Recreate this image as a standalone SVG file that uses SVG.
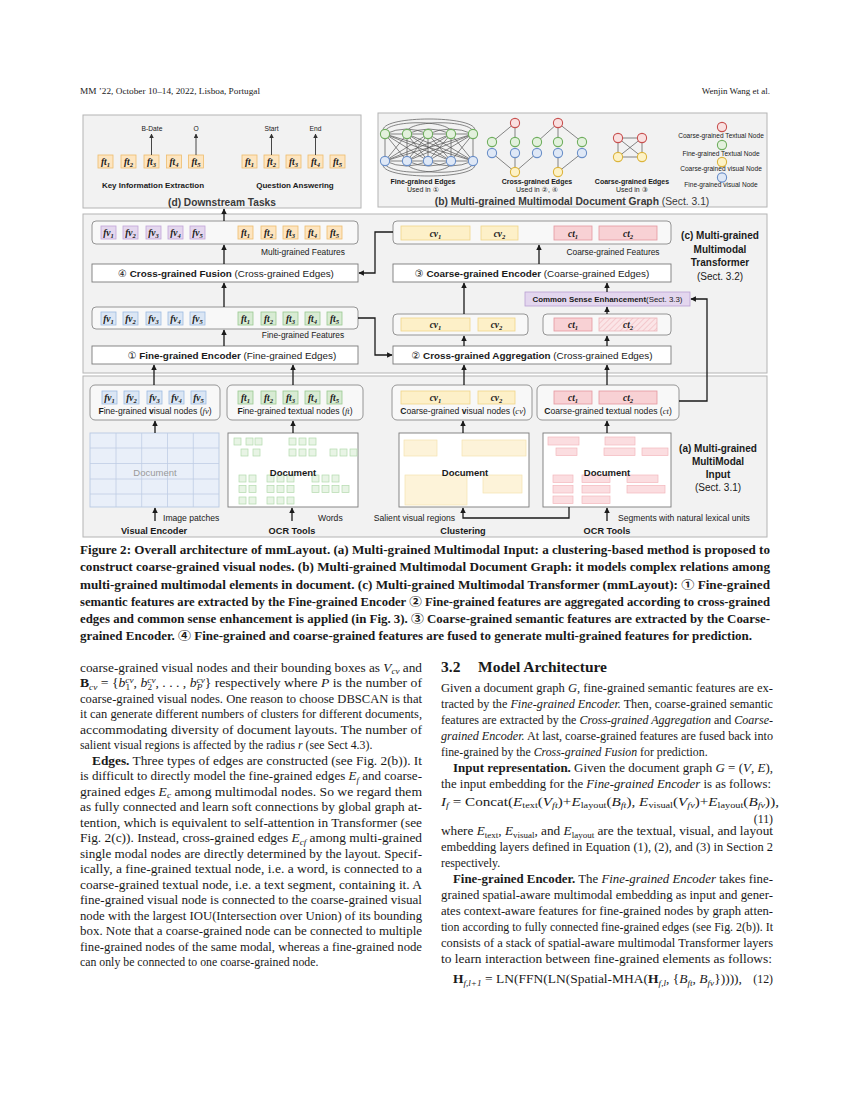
<svg xmlns="http://www.w3.org/2000/svg" width="850" height="1100" viewBox="0 0 850 1100">
<defs>
<style>
.pan{fill:#f2f2f2;stroke:#b4b4b4;stroke-width:1}
.rb{fill:#f8f8f8;stroke:#8a8a8a;stroke-width:0.9}
.wb{fill:#ffffff;stroke:#7a7a7a;stroke-width:0.9}
.o{fill:#fde5c0;stroke:#eebc6c;stroke-width:0.8}
.p{fill:#e4d7ee;stroke:#c0a4d8;stroke-width:0.8}
.bl{fill:#dbe6f4;stroke:#9dbbe2;stroke-width:0.8}
.g{fill:#d8ebd3;stroke:#99c991;stroke-width:0.8}
.y{fill:#fdf0c8;stroke:#efd488;stroke-width:0.8}
.k{fill:#f8d1d4;stroke:#e3979e;stroke-width:0.8}
.s{font-family:"Liberation Sans","DejaVu Sans","Noto Sans CJK SC",sans-serif;fill:#1a1a1a}
.m{font-family:"Liberation Serif","DejaVu Serif",serif;font-style:italic;font-weight:bold;font-size:9.5px;fill:#1a1a1a;text-anchor:middle}
.mi{font-family:"Liberation Serif","DejaVu Serif",serif;font-style:italic}
.sb{font-size:6.6px}
.cn{stroke:#1a1a1a;stroke-width:1.3;fill:none}
.cn2{stroke:#333;stroke-width:0.9;fill:none}
.e{stroke:#555;stroke-width:0.7;fill:none}
.nr{fill:#f9e0e0;stroke:#c8504f;stroke-width:1.1}
.ng{fill:#e3f1dd;stroke:#6fae5e;stroke-width:1.1}
.nb{fill:#dfe8f6;stroke:#6a8fc8;stroke-width:1.1}
.ny{fill:#fdf2c6;stroke:#dcb43c;stroke-width:1.1}
.t{font-family:"Liberation Serif","DejaVu Serif",serif;font-size:11.8px;fill:#1a1a1a}
.cap{font-family:"Liberation Serif","DejaVu Serif","Noto Sans CJK SC",serif;font-size:11.8px;font-weight:bold;fill:#1a1a1a}
.it{font-style:italic}
.bd{font-weight:bold}
.sub{font-size:8px}
</style>
<marker id="ah" viewBox="0 0 10 10" refX="9" refY="5" markerWidth="4.2" markerHeight="4.2" orient="auto"><path d="M0,0 L10,5 L0,10 z" fill="#1a1a1a"/></marker>
<marker id="ah2" viewBox="0 0 10 10" refX="9" refY="5" markerWidth="5" markerHeight="5" orient="auto"><path d="M0,0 L10,5 L0,10 z" fill="#333"/></marker>
<pattern id="hatch" width="4" height="4" patternUnits="userSpaceOnUse" patternTransform="rotate(45)"><rect width="4" height="4" fill="#fbe5e7"/><line x1="0" y1="0" x2="0" y2="4" stroke="#f0b7bc" stroke-width="1.2"/></pattern>
</defs>
<rect width="850" height="1100" fill="#ffffff"/>

<!-- header -->
<text x="80" y="94" class="t" style="font-size:9px" textLength="180" lengthAdjust="spacingAndGlyphs">MM ’22, October 10–14, 2022, Lisboa, Portugal</text>
<text x="770" y="94" class="t" style="font-size:9px" text-anchor="end">Wenjin Wang et al.</text>

<!-- panels -->
<g id="panel-d">
<rect class="pan" x="83" y="115" width="278" height="93"/>
<rect class="o" x="98" y="155" width="15" height="13"/><text class="m" x="105.5" y="165">ft<tspan class="sb" dy="2">1</tspan></text>
<rect class="o" x="121" y="155" width="15" height="13"/><text class="m" x="128.5" y="165">ft<tspan class="sb" dy="2">2</tspan></text>
<rect class="o" x="144" y="155" width="15" height="13"/><text class="m" x="151.5" y="165">ft<tspan class="sb" dy="2">3</tspan></text>
<rect class="o" x="166.5" y="155" width="15" height="13"/><text class="m" x="174" y="165">ft<tspan class="sb" dy="2">4</tspan></text>
<rect class="o" x="188.5" y="155" width="15" height="13"/><text class="m" x="196" y="165">ft<tspan class="sb" dy="2">5</tspan></text>
<rect class="o" x="242" y="155" width="15" height="13"/><text class="m" x="249.5" y="165">ft<tspan class="sb" dy="2">1</tspan></text>
<rect class="o" x="264" y="155" width="15" height="13"/><text class="m" x="271.5" y="165">ft<tspan class="sb" dy="2">2</tspan></text>
<rect class="o" x="286" y="155" width="15" height="13"/><text class="m" x="293.5" y="165">ft<tspan class="sb" dy="2">3</tspan></text>
<rect class="o" x="308" y="155" width="15" height="13"/><text class="m" x="315.5" y="165">ft<tspan class="sb" dy="2">4</tspan></text>
<rect class="o" x="330" y="155" width="15" height="13"/><text class="m" x="337.5" y="165">ft<tspan class="sb" dy="2">5</tspan></text>
<text class="s" x="152" y="130.5" font-size="6.7" text-anchor="middle">B-Date</text>
<text class="s" x="196" y="130.5" font-size="6.7" text-anchor="middle">O</text>
<text class="s" x="271.5" y="130.5" font-size="6.7" text-anchor="middle">Start</text>
<text class="s" x="315.5" y="130.5" font-size="6.7" text-anchor="middle">End</text>
<text class="s" x="153" y="187.5" font-size="8" font-weight="bold" text-anchor="middle">Key Information Extraction</text>
<text class="s" x="295" y="187.5" font-size="8" font-weight="bold" text-anchor="middle">Question Answering</text>
<text class="s" x="222" y="206" font-size="10.2" font-weight="bold" text-anchor="middle" style="fill:#3a3a3a">(d) Downstream Tasks</text>
</g>

<g id="panel-b">
<rect class="pan" x="378" y="113" width="389" height="94"/>
<g id="fine-edges">
<path class="e" d="M385,134 L407,134 L428,134 L451,134 L473,134 M385,161 L407,161 L428,161 L451,161 L473,161"/>
<path class="e" d="M385,134 L385,161 M385,134 L407,161 M385,134 L428,161 M385,134 L451,161 M385,134 L473,161 M407,134 L385,161 M407,134 L407,161 M407,134 L428,161 M407,134 L451,161 M407,134 L473,161 M428,134 L385,161 M428,134 L407,161 M428,134 L428,161 M428,134 L451,161 M428,134 L473,161 M451,134 L385,161 M451,134 L407,161 M451,134 L428,161 M451,134 L451,161 M451,134 L473,161 M473,134 L385,161 M473,134 L407,161 M473,134 L428,161 M473,134 L451,161 M473,134 L473,161"/>
<path class="e" d="M385,134 Q406.5,124 428,134 M407,134 Q429,124 451,134 M428,134 Q450.5,124 473,134 M385,134 C380,119 456,119 451,134 M407,134 C402,119 478,119 473,134 M385,134 C366,114 492,114 473,134"/>
<path class="e" d="M385,161 Q406.5,171 428,161 M407,161 Q429,171 451,161 M428,161 Q450.5,171 473,161 M385,161 C380,176 456,176 451,161 M407,161 C402,176 478,176 473,161 M385,161 C366,181 492,181 473,161"/>
<circle class="ng" cx="385" cy="134" r="4.6"/><circle class="ng" cx="407" cy="134" r="4.6"/><circle class="ng" cx="428" cy="134" r="4.6"/><circle class="ng" cx="451" cy="134" r="4.6"/><circle class="ng" cx="473" cy="134" r="4.6"/>
<circle class="nb" cx="385" cy="161" r="4.6"/><circle class="nb" cx="407" cy="161" r="4.6"/><circle class="nb" cx="428" cy="161" r="4.6"/><circle class="nb" cx="451" cy="161" r="4.6"/><circle class="nb" cx="473" cy="161" r="4.6"/>
</g>
<g id="cross-edges">
<path class="e" d="M515,123 L492,142 M515,123 L515,142 M558,123 L537,142 M558,123 L558,142 M558,123 L582,142 M515,172 L492,153 M515,172 L515,153 M515,172 L537,153 M558,172 L558,153 M558,172 L582,153"/>
<circle class="nr" cx="515" cy="123" r="4.6"/><circle class="nr" cx="558" cy="123" r="4.6"/>
<circle class="ng" cx="492" cy="142" r="4.6"/><circle class="ng" cx="515" cy="142" r="4.6"/><circle class="ng" cx="537" cy="142" r="4.6"/><circle class="ng" cx="558" cy="142" r="4.6"/><circle class="ng" cx="582" cy="142" r="4.6"/>
<circle class="nb" cx="492" cy="153" r="4.6"/><circle class="nb" cx="515" cy="153" r="4.6"/><circle class="nb" cx="537" cy="153" r="4.6"/><circle class="nb" cx="558" cy="153" r="4.6"/><circle class="nb" cx="582" cy="153" r="4.6"/>
<circle class="ny" cx="515" cy="172" r="4.6"/><circle class="ny" cx="558" cy="172" r="4.6"/>
</g>
<g id="coarse-edges">
<path class="e" d="M618,138 L642,138 L642,157 L618,157 Z M618,138 L642,157 M642,138 L618,157"/>
<circle class="nr" cx="618" cy="138" r="4.6"/><circle class="nr" cx="642" cy="138" r="4.6"/>
<circle class="ny" cx="618" cy="157" r="4.6"/><circle class="ny" cx="642" cy="157" r="4.6"/>
</g>
<g id="legend">
<circle class="nr" cx="722" cy="127" r="4.6"/>
<circle class="ng" cx="722" cy="145" r="4.6"/>
<circle class="ny" cx="722" cy="162" r="4.6"/>
<circle class="nb" cx="722" cy="177.5" r="4.6"/>
<text class="s" x="721" y="138" font-size="6.6" text-anchor="middle">Coarse-grained Textual Node</text>
<text class="s" x="721" y="155.5" font-size="6.6" text-anchor="middle">Fine-grained Textual Node</text>
<text class="s" x="721" y="171" font-size="6.6" text-anchor="middle">Coarse-grained visual Node</text>
<text class="s" x="721" y="187" font-size="6.6" text-anchor="middle">Fine-grained visual Node</text>
</g>
<text class="s" x="423" y="184" font-size="7" font-weight="bold" text-anchor="middle">Fine-grained Edges</text>
<text class="s" x="423" y="192" font-size="7" text-anchor="middle">Used in ①</text>
<text class="s" x="537" y="184" font-size="7" font-weight="bold" text-anchor="middle">Cross-grained Edges</text>
<text class="s" x="537" y="192" font-size="7" text-anchor="middle">Used in ②, ④</text>
<text class="s" x="632" y="184" font-size="7" font-weight="bold" text-anchor="middle">Coarse-grained Edges</text>
<text class="s" x="632" y="192" font-size="7" text-anchor="middle">Used in ③</text>
<text class="s" x="572" y="204.5" font-size="10.3" text-anchor="middle" style="fill:#3a3a3a"><tspan font-weight="bold">(b) Multi-grained Multimodal Document Graph</tspan> (Sect. 3.1)</text>
</g>

<g id="panel-c">
<rect class="pan" x="83" y="214" width="684" height="159"/>
<text class="s" x="720" y="239" font-size="10" font-weight="bold" text-anchor="middle">(c) Multi-grained</text>
<text class="s" x="720" y="252.5" font-size="10" font-weight="bold" text-anchor="middle">Multimodal</text>
<text class="s" x="720" y="266" font-size="10" font-weight="bold" text-anchor="middle">Transformer</text>
<text class="s" x="720" y="280" font-size="10" text-anchor="middle">(Sect. 3.2)</text>
</g>

<g id="panel-a">
<rect class="pan" x="83" y="376" width="684" height="161"/>
<text class="s" x="718" y="452" font-size="10" font-weight="bold" text-anchor="middle">(a) Multi-grained</text>
<text class="s" x="718" y="465" font-size="10" font-weight="bold" text-anchor="middle">MultiModal</text>
<text class="s" x="718" y="478" font-size="10" font-weight="bold" text-anchor="middle">Input</text>
<text class="s" x="718" y="491" font-size="10" text-anchor="middle">(Sect. 3.1)</text>
</g>

<!-- panel c nodes -->
<g id="multi-features">
<rect class="rb" x="92" y="221" width="266" height="23" rx="4"/>
<rect class="p" x="101" y="226" width="15" height="13"/><text class="m" x="108.5" y="236">fv<tspan class="sb" dy="2">1</tspan></text>
<rect class="p" x="123" y="226" width="15" height="13"/><text class="m" x="130.5" y="236">fv<tspan class="sb" dy="2">2</tspan></text>
<rect class="p" x="146" y="226" width="15" height="13"/><text class="m" x="153.5" y="236">fv<tspan class="sb" dy="2">3</tspan></text>
<rect class="p" x="168" y="226" width="15" height="13"/><text class="m" x="175.5" y="236">fv<tspan class="sb" dy="2">4</tspan></text>
<rect class="p" x="190" y="226" width="15" height="13"/><text class="m" x="197.5" y="236">fv<tspan class="sb" dy="2">5</tspan></text>
<rect class="o" x="238" y="226" width="15" height="13"/><text class="m" x="245.5" y="236">ft<tspan class="sb" dy="2">1</tspan></text>
<rect class="o" x="261" y="226" width="15" height="13"/><text class="m" x="268.5" y="236">ft<tspan class="sb" dy="2">2</tspan></text>
<rect class="o" x="283" y="226" width="15" height="13"/><text class="m" x="290.5" y="236">ft<tspan class="sb" dy="2">3</tspan></text>
<rect class="o" x="305" y="226" width="15" height="13"/><text class="m" x="312.5" y="236">ft<tspan class="sb" dy="2">4</tspan></text>
<rect class="o" x="327" y="226" width="15" height="13"/><text class="m" x="334.5" y="236">ft<tspan class="sb" dy="2">5</tspan></text>
<text class="s" x="303" y="255" font-size="8.4" text-anchor="middle">Multi-grained Features</text>
</g>
<g id="fusion">
<rect class="wb" x="92" y="264" width="266" height="18"/>
<text class="s" x="226" y="276.8" font-size="9.9" text-anchor="middle">④ <tspan font-weight="bold">Cross-grained Fusion</tspan> (Cross-grained Edges)</text>
</g>
<g id="fine-features">
<rect class="rb" x="92" y="307" width="266" height="22" rx="4"/>
<rect class="bl" x="101" y="312" width="15" height="13"/><text class="m" x="108.5" y="322">fv<tspan class="sb" dy="2">1</tspan></text>
<rect class="bl" x="123" y="312" width="15" height="13"/><text class="m" x="130.5" y="322">fv<tspan class="sb" dy="2">2</tspan></text>
<rect class="bl" x="146" y="312" width="15" height="13"/><text class="m" x="153.5" y="322">fv<tspan class="sb" dy="2">3</tspan></text>
<rect class="bl" x="168" y="312" width="15" height="13"/><text class="m" x="175.5" y="322">fv<tspan class="sb" dy="2">4</tspan></text>
<rect class="bl" x="190" y="312" width="15" height="13"/><text class="m" x="197.5" y="322">fv<tspan class="sb" dy="2">5</tspan></text>
<rect class="g" x="238" y="312" width="15" height="13"/><text class="m" x="245.5" y="322">ft<tspan class="sb" dy="2">1</tspan></text>
<rect class="g" x="261" y="312" width="15" height="13"/><text class="m" x="268.5" y="322">ft<tspan class="sb" dy="2">2</tspan></text>
<rect class="g" x="283" y="312" width="15" height="13"/><text class="m" x="290.5" y="322">ft<tspan class="sb" dy="2">3</tspan></text>
<rect class="g" x="305" y="312" width="15" height="13"/><text class="m" x="312.5" y="322">ft<tspan class="sb" dy="2">4</tspan></text>
<rect class="g" x="327" y="312" width="15" height="13"/><text class="m" x="334.5" y="322">ft<tspan class="sb" dy="2">5</tspan></text>
<text class="s" x="303" y="338" font-size="8.4" text-anchor="middle">Fine-grained Features</text>
</g>
<g id="fine-encoder">
<rect class="wb" x="92" y="346" width="266" height="18"/>
<text class="s" x="232" y="358.8" font-size="9.9" text-anchor="middle">① <tspan font-weight="bold">Fine-grained Encoder</tspan> (Fine-grained Edges)</text>
</g>
<g id="coarse-features">
<rect class="rb" x="393" y="221" width="278" height="23" rx="4"/>
<rect class="y" x="401" y="226" width="69" height="14"/><text class="m" x="435.5" y="236.5">cv<tspan class="sb" dy="2">1</tspan></text>
<rect class="y" x="481" y="226" width="37" height="14"/><text class="m" x="499.5" y="236.5">cv<tspan class="sb" dy="2">2</tspan></text>
<rect class="k" x="554" y="226" width="38" height="14"/><text class="m" x="573" y="236.5">ct<tspan class="sb" dy="2">1</tspan></text>
<rect class="k" x="599" y="226" width="58" height="14"/><text class="m" x="628" y="236.5">ct<tspan class="sb" dy="2">2</tspan></text>
<text class="s" x="613" y="255" font-size="8.4" text-anchor="middle">Coarse-grained Features</text>
</g>
<g id="coarse-encoder">
<rect class="wb" x="393" y="264" width="278" height="18"/>
<text class="s" x="532" y="276.8" font-size="9.9" text-anchor="middle">③ <tspan font-weight="bold">Coarse-grained Encoder</tspan> (Coarse-grained Edges)</text>
</g>
<g id="common-sense">
<rect x="525" y="292" width="165" height="14" fill="#e3d6ee" stroke="#b9a0d2" stroke-width="0.8"/>
<text class="s" x="607.5" y="301.8" font-size="7.9" text-anchor="middle"><tspan font-weight="bold">Common Sense Enhancement</tspan>(Sect. 3.3)</text>
</g>
<g id="agg-cv">
<rect class="rb" x="393" y="314" width="135" height="21" rx="4"/>
<rect class="y" x="401" y="318" width="69" height="13"/><text class="m" x="435.5" y="328">cv<tspan class="sb" dy="2">1</tspan></text>
<rect class="y" x="478" y="318" width="37" height="13"/><text class="m" x="496.5" y="328">cv<tspan class="sb" dy="2">2</tspan></text>
</g>
<g id="agg-ct">
<rect class="rb" x="543" y="314" width="128" height="21" rx="4"/>
<rect class="k" x="554" y="318" width="38" height="13"/><text class="m" x="573" y="328">ct<tspan class="sb" dy="2">1</tspan></text>
<rect x="599" y="318" width="58" height="13" fill="url(#hatch)" stroke="#eab3b8" stroke-width="0.8"/><text class="m" x="628" y="328">ct<tspan class="sb" dy="2">2</tspan></text>
</g>
<g id="aggregation">
<rect class="wb" x="393" y="346" width="278" height="18"/>
<text class="s" x="532" y="358.8" font-size="9.9" text-anchor="middle">② <tspan font-weight="bold">Cross-grained Aggregation</tspan> (Cross-grained Edges)</text>
</g>

<!-- panel a nodes -->
<g id="fv-nodes">
<rect class="rb" x="90" y="385" width="130" height="35" rx="5"/>
<rect class="bl" x="102" y="391" width="15" height="13"/><text class="m" x="109.5" y="401">fv<tspan class="sb" dy="2">1</tspan></text>
<rect class="bl" x="124" y="391" width="15" height="13"/><text class="m" x="131.5" y="401">fv<tspan class="sb" dy="2">2</tspan></text>
<rect class="bl" x="147" y="391" width="15" height="13"/><text class="m" x="154.5" y="401">fv<tspan class="sb" dy="2">3</tspan></text>
<rect class="bl" x="169" y="391" width="15" height="13"/><text class="m" x="176.5" y="401">fv<tspan class="sb" dy="2">4</tspan></text>
<rect class="bl" x="191" y="391" width="15" height="13"/><text class="m" x="198.5" y="401">fv<tspan class="sb" dy="2">5</tspan></text>
<text class="s" x="155" y="414" font-size="8.6" text-anchor="middle"><tspan font-weight="bold">F</tspan>ine-grained <tspan font-weight="bold">v</tspan>isual nodes (<tspan class="mi">fv</tspan>)</text>
</g>
<g id="ft-nodes">
<rect class="rb" x="227" y="385" width="136" height="35" rx="5"/>
<rect class="g" x="238" y="391" width="15" height="13"/><text class="m" x="245.5" y="401">ft<tspan class="sb" dy="2">1</tspan></text>
<rect class="g" x="261" y="391" width="15" height="13"/><text class="m" x="268.5" y="401">ft<tspan class="sb" dy="2">2</tspan></text>
<rect class="g" x="283" y="391" width="15" height="13"/><text class="m" x="290.5" y="401">ft<tspan class="sb" dy="2">3</tspan></text>
<rect class="g" x="305" y="391" width="15" height="13"/><text class="m" x="312.5" y="401">ft<tspan class="sb" dy="2">4</tspan></text>
<rect class="g" x="327" y="391" width="15" height="13"/><text class="m" x="334.5" y="401">ft<tspan class="sb" dy="2">5</tspan></text>
<text class="s" x="295" y="414" font-size="8.6" text-anchor="middle"><tspan font-weight="bold">F</tspan>ine-grained <tspan font-weight="bold">t</tspan>extual nodes (<tspan class="mi">ft</tspan>)</text>
</g>
<g id="cv-nodes">
<rect class="rb" x="392" y="385" width="140" height="35" rx="5"/>
<rect class="y" x="401" y="391" width="69" height="13"/><text class="m" x="435.5" y="401">cv<tspan class="sb" dy="2">1</tspan></text>
<rect class="y" x="478" y="391" width="37" height="13"/><text class="m" x="496.5" y="401">cv<tspan class="sb" dy="2">2</tspan></text>
<text class="s" x="463" y="414" font-size="8.6" text-anchor="middle"><tspan font-weight="bold">C</tspan>oarse-grained <tspan font-weight="bold">v</tspan>isual nodes (<tspan class="mi">cv</tspan>)</text>
</g>
<g id="ct-nodes">
<rect class="rb" x="537" y="385" width="142" height="35" rx="5"/>
<rect class="k" x="554" y="391" width="38" height="13"/><text class="m" x="573" y="401">ct<tspan class="sb" dy="2">1</tspan></text>
<rect class="k" x="599" y="391" width="58" height="13"/><text class="m" x="628" y="401">ct<tspan class="sb" dy="2">2</tspan></text>
<text class="s" x="608" y="414" font-size="8.6" text-anchor="middle"><tspan font-weight="bold">C</tspan>oarse-grained <tspan font-weight="bold">t</tspan>extual nodes (<tspan class="mi">ct</tspan>)</text>
</g>

<g id="doc-visual">
<rect x="90" y="433" width="129" height="74" fill="#e9eff9" stroke="#b9c9e2" stroke-width="0.9"/>
<path d="M116,433 V507 M141.7,433 V507 M167.5,433 V507 M193.3,433 V507 M90,448 H219 M90,463.5 H219 M90,479 H219 M90,494 H219" stroke="#bfcde4" stroke-width="0.8" fill="none"/>
<text class="s" x="155" y="476" font-size="9.5" text-anchor="middle" style="fill:#9a9a9a">Document</text>
</g>
<g id="doc-ocr-fine">
<rect class="wb" x="228" y="433" width="130" height="74"/>
<g fill="#e8f4e5" stroke="#b3dbad" stroke-width="0.7">
<rect x="234" y="438" width="7" height="7"/><rect x="246" y="438" width="7" height="7"/><rect x="255" y="438" width="7" height="7"/>
<rect x="289" y="438" width="7" height="7"/><rect x="299" y="438" width="7" height="7"/><rect x="309" y="438" width="7" height="7"/>
<rect x="241" y="449" width="7" height="7"/><rect x="253" y="449" width="7" height="7"/>
<rect x="289" y="449" width="7" height="7"/><rect x="299" y="449" width="7" height="7"/><rect x="309" y="449" width="7" height="7"/>
<rect x="330" y="449" width="7" height="7"/><rect x="340" y="449" width="7" height="7"/><rect x="350" y="449" width="7" height="7"/>
<rect x="239" y="475" width="7" height="7"/><rect x="249" y="475" width="7" height="7"/>
<rect x="267" y="475" width="7" height="7"/><rect x="277" y="475" width="7" height="7"/><rect x="287" y="475" width="7" height="7"/>
<rect x="312" y="475" width="7" height="7"/><rect x="322" y="475" width="7" height="7"/><rect x="332" y="475" width="7" height="7"/>
<rect x="239" y="485.5" width="7" height="7"/><rect x="249" y="485.5" width="7" height="7"/>
<rect x="267" y="485.5" width="7" height="7"/><rect x="277" y="485.5" width="7" height="7"/><rect x="287" y="485.5" width="7" height="7"/>
<rect x="312" y="485.5" width="7" height="7"/><rect x="322" y="485.5" width="7" height="7"/><rect x="332" y="485.5" width="7" height="7"/><rect x="342" y="485.5" width="7" height="7"/>
<rect x="239" y="497" width="7" height="7"/><rect x="249" y="497" width="7" height="7"/>
<rect x="267" y="497" width="7" height="7"/><rect x="277" y="497" width="7" height="7"/><rect x="287" y="497" width="7" height="7"/>
</g>
<text class="s" x="293" y="476" font-size="9.5" font-weight="bold" text-anchor="middle">Document</text>
</g>
<g id="doc-cluster">
<rect class="wb" x="399" y="433" width="130" height="74"/>
<g fill="#fdf3d9" stroke="#f4e2b0" stroke-width="0.7">
<rect x="404" y="440" width="33" height="16"/>
<rect x="462" y="440" width="64" height="16"/>
<rect x="405" y="475" width="62" height="30"/>
<rect x="483" y="475" width="39" height="18"/>
</g>
<text class="s" x="465" y="476" font-size="9.5" font-weight="bold" text-anchor="middle">Document</text>
</g>
<g id="doc-ocr-coarse">
<rect class="wb" x="543" y="433" width="128" height="74"/>
<g fill="#fbdde0" stroke="#f2b7bc" stroke-width="0.7">
<rect x="548" y="437" width="31" height="8"/><rect x="605" y="437" width="30" height="8"/>
<rect x="556" y="448" width="21" height="7.5"/><rect x="604" y="448" width="31" height="7.5"/><rect x="642" y="448" width="26" height="7.5"/>
<rect x="553" y="475" width="20" height="7.5"/><rect x="582" y="475" width="28" height="7.5"/><rect x="627" y="475" width="31" height="7.5"/>
<rect x="553" y="485.5" width="20" height="7.5"/><rect x="582" y="485.5" width="28" height="7.5"/><rect x="627" y="485.5" width="38" height="7.5"/>
<rect x="553" y="496" width="20" height="7.5"/><rect x="582" y="496" width="28" height="7.5"/>
</g>
<text class="s" x="607" y="476" font-size="9.5" font-weight="bold" text-anchor="middle">Document</text>
</g>

<g id="sources">
<text class="s" x="163" y="521" font-size="8.6">Image patches</text>
<text class="s" x="154" y="533.5" font-size="9.2" font-weight="bold" text-anchor="middle">Visual Encoder</text>
<text class="s" x="318" y="521" font-size="8.6">Words</text>
<text class="s" x="292" y="533.5" font-size="9.2" font-weight="bold" text-anchor="middle">OCR Tools</text>
<text class="s" x="455" y="521" font-size="8.6" text-anchor="end">Salient visual regions</text>
<text class="s" x="463" y="533.5" font-size="9.2" font-weight="bold" text-anchor="middle">Clustering</text>
<text class="s" x="618" y="521" font-size="8.6">Segments with natural lexical units</text>
<text class="s" x="607" y="533.5" font-size="9.2" font-weight="bold" text-anchor="middle">OCR Tools</text>
</g>

<!-- connectors -->
<g id="connectors">
<path class="cn2" marker-end="url(#ah2)" d="M151.5,155 V134"/>
<path class="cn2" marker-end="url(#ah2)" d="M196,155 V134"/>
<path class="cn2" marker-end="url(#ah2)" d="M271.5,155 V134"/>
<path class="cn2" marker-end="url(#ah2)" d="M315.5,155 V134"/>
<path class="cn" marker-end="url(#ah)" d="M224,221 V209"/>
<path class="cn" marker-end="url(#ah)" d="M224,264 V245"/>
<path class="cn" marker-end="url(#ah)" d="M224,307 V283"/>
<path class="cn" marker-end="url(#ah)" d="M224,346 V330"/>
<path class="cn" marker-end="url(#ah)" d="M154,385 V365"/>
<path class="cn" marker-end="url(#ah)" d="M293,385 V365"/>
<path class="cn" marker-end="url(#ah)" d="M358,318 H375 V355 H392"/>
<path class="cn" marker-end="url(#ah)" d="M393,232 H375 V273 H359"/>
<path class="cn" marker-end="url(#ah)" d="M539,264 V245"/>
<path class="cn" marker-end="url(#ah)" d="M464,314 V283"/>
<path class="cn" marker-end="url(#ah)" d="M607,292 V283"/>
<path class="cn" marker-end="url(#ah)" d="M607,314 V307"/>
<path class="cn" marker-end="url(#ah)" d="M464,346 V336"/>
<path class="cn" marker-end="url(#ah)" d="M607,346 V336"/>
<path class="cn" marker-end="url(#ah)" d="M464,385 V365"/>
<path class="cn" marker-end="url(#ah)" d="M607,385 V365"/>
<path class="cn" marker-end="url(#ah)" d="M679,401 H707 V299 H691"/>
<path class="cn" marker-end="url(#ah)" d="M155,433 V421"/>
<path class="cn" marker-end="url(#ah)" d="M293,433 V421"/>
<path class="cn" marker-end="url(#ah)" d="M463,433 V421"/>
<path class="cn" marker-end="url(#ah)" d="M607,433 V421"/>
<path class="cn" marker-end="url(#ah)" d="M155,521 V508"/>
<path class="cn" marker-end="url(#ah)" d="M292,521 V508"/>
<path class="cn" marker-end="url(#ah)" d="M569,507 V518 H463 V508"/>
<path class="cn" marker-end="url(#ah)" d="M607,521 V508"/>
</g>

<!-- caption -->
<g id="caption">
<text class="cap" x="80" y="554" textLength="690" lengthAdjust="spacingAndGlyphs">Figure 2: Overall architecture of mmLayout. (a) Multi-grained Multimodal Input: a clustering-based method is proposed to</text>
<text class="cap" x="80" y="571" textLength="690" lengthAdjust="spacingAndGlyphs">construct coarse-grained visual nodes. (b) Multi-grained Multimodal Document Graph: it models complex relations among</text>
<text class="cap" x="80" y="588.5" textLength="690" lengthAdjust="spacingAndGlyphs">multi-grained multimodal elements in document. (c) Multi-grained Multimodal Transformer (mmLayout): ① Fine-grained</text>
<text class="cap" x="80" y="606" textLength="690" lengthAdjust="spacingAndGlyphs">semantic features are extracted by the Fine-grained Encoder ② Fine-grained features are aggregated according to cross-grained</text>
<text class="cap" x="80" y="623" textLength="690" lengthAdjust="spacingAndGlyphs">edges and common sense enhancement is applied (in Fig. 3). ③ Coarse-grained semantic features are extracted by the Coarse-</text>
<text class="cap" x="80" y="640" textLength="672" lengthAdjust="spacingAndGlyphs">grained Encoder. ④ Fine-grained and coarse-grained features are fused to generate multi-grained features for prediction.</text>
</g>

<!-- left column -->
<g id="left-column">
<text class="t" x="80" y="671.5" textLength="342" lengthAdjust="spacingAndGlyphs">coarse-grained visual nodes and their bounding boxes as <tspan class="it">V</tspan><tspan class="sub it" dy="2.5">cv</tspan><tspan dy="-2.5"> and</tspan></text>
<text class="t" x="80" y="687" textLength="342" lengthAdjust="spacingAndGlyphs"><tspan class="bd">B</tspan><tspan class="sub it" dy="2.5">cv</tspan><tspan dy="-2.5"> = {</tspan><tspan class="it">b</tspan><tspan class="sub it" dy="-4.5">cv</tspan><tspan class="sub" dx="-7" dy="7.5">1</tspan><tspan dx="3" dy="-3">, </tspan><tspan class="it">b</tspan><tspan class="sub it" dy="-4.5">cv</tspan><tspan class="sub" dx="-7" dy="7.5">2</tspan><tspan dx="3" dy="-3">, . . . , </tspan><tspan class="it">b</tspan><tspan class="sub it" dy="-4.5">cv</tspan><tspan class="sub it" dx="-7" dy="7.5">P</tspan><tspan dx="2" dy="-3">} respectively where </tspan><tspan class="it">P</tspan> is the number of</text>
<text class="t" x="80" y="702.5" textLength="342" lengthAdjust="spacingAndGlyphs">coarse-grained visual nodes. One reason to choose DBSCAN is that</text>
<text class="t" x="80" y="718" textLength="342" lengthAdjust="spacingAndGlyphs">it can generate different numbers of clusters for different documents,</text>
<text class="t" x="80" y="733.5" textLength="342" lengthAdjust="spacingAndGlyphs">accommodating diversity of document layouts. The number of</text>
<text class="t" x="80" y="749">salient visual regions is affected by the radius <tspan class="it">r</tspan> (see Sect 4.3).</text>
<text class="t" x="92" y="764.5" textLength="330" lengthAdjust="spacingAndGlyphs"><tspan class="bd">Edges.</tspan> Three types of edges are constructed (see Fig. 2(b)). It</text>
<text class="t" x="80" y="780" textLength="342" lengthAdjust="spacingAndGlyphs">is difficult to directly model the fine-grained edges <tspan class="it">E</tspan><tspan class="sub it" dy="2.5">f</tspan><tspan dy="-2.5"> and coarse-</tspan></text>
<text class="t" x="80" y="795.5" textLength="342" lengthAdjust="spacingAndGlyphs">grained edges <tspan class="it">E</tspan><tspan class="sub it" dy="2.5">c</tspan><tspan dy="-2.5"> among multimodal nodes. So we regard them</tspan></text>
<text class="t" x="80" y="811" textLength="342" lengthAdjust="spacingAndGlyphs">as fully connected and learn soft connections by global graph at-</text>
<text class="t" x="80" y="826.5" textLength="342" lengthAdjust="spacingAndGlyphs">tention, which is equivalent to self-attention in Transformer (see</text>
<text class="t" x="80" y="842" textLength="342" lengthAdjust="spacingAndGlyphs">Fig. 2(c)). Instead, cross-grained edges <tspan class="it">E</tspan><tspan class="sub it" dy="2.5">cf</tspan><tspan dy="-2.5"> among multi-grained</tspan></text>
<text class="t" x="80" y="857.5" textLength="342" lengthAdjust="spacingAndGlyphs">single modal nodes are directly determined by the layout. Specif-</text>
<text class="t" x="80" y="873" textLength="342" lengthAdjust="spacingAndGlyphs">ically, a fine-grained textual node, i.e. a word, is connected to a</text>
<text class="t" x="80" y="888.5" textLength="342" lengthAdjust="spacingAndGlyphs">coarse-grained textual node, i.e. a text segment, containing it. A</text>
<text class="t" x="80" y="904" textLength="342" lengthAdjust="spacingAndGlyphs">fine-grained visual node is connected to the coarse-grained visual</text>
<text class="t" x="80" y="919.5" textLength="342" lengthAdjust="spacingAndGlyphs">node with the largest IOU(Intersection over Union) of its bounding</text>
<text class="t" x="80" y="935" textLength="342" lengthAdjust="spacingAndGlyphs">box. Note that a coarse-grained node can be connected to multiple</text>
<text class="t" x="80" y="950.5" textLength="342" lengthAdjust="spacingAndGlyphs">fine-grained nodes of the same modal, whereas a fine-grained node</text>
<text class="t" x="80" y="966">can only be connected to one coarse-grained node.</text>
</g>

<!-- right column -->
<g id="right-column">
<text class="t" x="441" y="672" style="font-size:15.5px;font-weight:bold">3.2</text>
<text class="t" x="478" y="672" style="font-size:15.5px;font-weight:bold" textLength="129" lengthAdjust="spacingAndGlyphs">Model Architecture</text>
<text class="t" x="441" y="692" textLength="332" lengthAdjust="spacingAndGlyphs">Given a document graph <tspan class="it">G</tspan>, fine-grained semantic features are ex-</text>
<text class="t" x="441" y="708" textLength="332" lengthAdjust="spacingAndGlyphs">tracted by the <tspan class="it">Fine-grained Encoder.</tspan> Then, coarse-grained semantic</text>
<text class="t" x="441" y="724" textLength="332" lengthAdjust="spacingAndGlyphs">features are extracted by the <tspan class="it">Cross-grained Aggregation</tspan> and <tspan class="it">Coarse-</tspan></text>
<text class="t" x="441" y="740" textLength="332" lengthAdjust="spacingAndGlyphs"><tspan class="it">grained Encoder.</tspan> At last, coarse-grained features are fused back into</text>
<text class="t" x="441" y="756">fine-grained by the <tspan class="it">Cross-grained Fusion</tspan> for prediction.</text>
<text class="t" x="453" y="772" textLength="320" lengthAdjust="spacingAndGlyphs"><tspan class="bd">Input representation.</tspan> Given the document graph <tspan class="it">G</tspan> = (<tspan class="it">V</tspan>, <tspan class="it">E</tspan>),</text>
<text class="t" x="441" y="788" textLength="330" lengthAdjust="spacingAndGlyphs">the input embedding for the <tspan class="it">Fine-grained Encoder</tspan> is as follows:</text>
<text class="t" x="441" y="806" textLength="338" lengthAdjust="spacingAndGlyphs"><tspan class="it">I</tspan><tspan class="sub it" dy="2">f</tspan><tspan dy="-2"> = Concat(</tspan><tspan class="it">E</tspan><tspan class="sub" dy="2">text</tspan><tspan dy="-2">(</tspan><tspan class="it">V</tspan><tspan class="sub it" dy="2">ft</tspan><tspan dy="-2">)+</tspan><tspan class="it">E</tspan><tspan class="sub" dy="2">layout</tspan><tspan dy="-2">(</tspan><tspan class="it">B</tspan><tspan class="sub it" dy="2">ft</tspan><tspan dy="-2">), </tspan><tspan class="it">E</tspan><tspan class="sub" dy="2">visual</tspan><tspan dy="-2">(</tspan><tspan class="it">V</tspan><tspan class="sub it" dy="2">fv</tspan><tspan dy="-2">)+</tspan><tspan class="it">E</tspan><tspan class="sub" dy="2">layout</tspan><tspan dy="-2">(</tspan><tspan class="it">B</tspan><tspan class="sub it" dy="2">fv</tspan><tspan dy="-2">)),</tspan></text>
<text class="t" x="773" y="823" text-anchor="end">(11)</text>
<text class="t" x="441" y="835" textLength="332" lengthAdjust="spacingAndGlyphs">where <tspan class="it">E</tspan><tspan class="sub" dy="2.5">text</tspan><tspan dy="-2.5">, </tspan><tspan class="it">E</tspan><tspan class="sub" dy="2.5">visual</tspan><tspan dy="-2.5">, and </tspan><tspan class="it">E</tspan><tspan class="sub" dy="2.5">layout</tspan><tspan dy="-2.5"> are the textual, visual, and layout</tspan></text>
<text class="t" x="441" y="851" textLength="332" lengthAdjust="spacingAndGlyphs">embedding layers defined in Equation (1), (2), and (3) in Section 2</text>
<text class="t" x="441" y="867">respectively.</text>
<text class="t" x="453" y="883" textLength="320" lengthAdjust="spacingAndGlyphs"><tspan class="bd">Fine-grained Encoder.</tspan> The <tspan class="it">Fine-grained Encoder</tspan> takes fine-</text>
<text class="t" x="441" y="899" textLength="332" lengthAdjust="spacingAndGlyphs">grained spatial-aware multimodal embedding as input and gener-</text>
<text class="t" x="441" y="915" textLength="332" lengthAdjust="spacingAndGlyphs">ates context-aware features for fine-grained nodes by graph atten-</text>
<text class="t" x="441" y="931" textLength="332" lengthAdjust="spacingAndGlyphs">tion according to fully connected fine-grained edges (see Fig. 2(b)). It</text>
<text class="t" x="441" y="947" textLength="332" lengthAdjust="spacingAndGlyphs">consists of a stack of spatial-aware multimodal Transformer layers</text>
<text class="t" x="441" y="963" textLength="331" lengthAdjust="spacingAndGlyphs">to learn interaction between fine-grained elements as follows:</text>
<text class="t" x="453" y="983" textLength="289" lengthAdjust="spacingAndGlyphs"><tspan class="bd">H</tspan><tspan class="sub it" dy="2.5">f,l+1</tspan><tspan dy="-2.5"> = LN(FFN(LN(Spatial-MHA(</tspan><tspan class="bd">H</tspan><tspan class="sub it" dy="2.5">f,l</tspan><tspan dy="-2.5">, {</tspan><tspan class="it">B</tspan><tspan class="sub it" dy="2.5">ft</tspan><tspan dy="-2.5">, </tspan><tspan class="it">B</tspan><tspan class="sub it" dy="2.5">fv</tspan><tspan dy="-2.5">})))),</tspan></text>
<text class="t" x="773" y="983" text-anchor="end">(12)</text>
</g>
</svg>
